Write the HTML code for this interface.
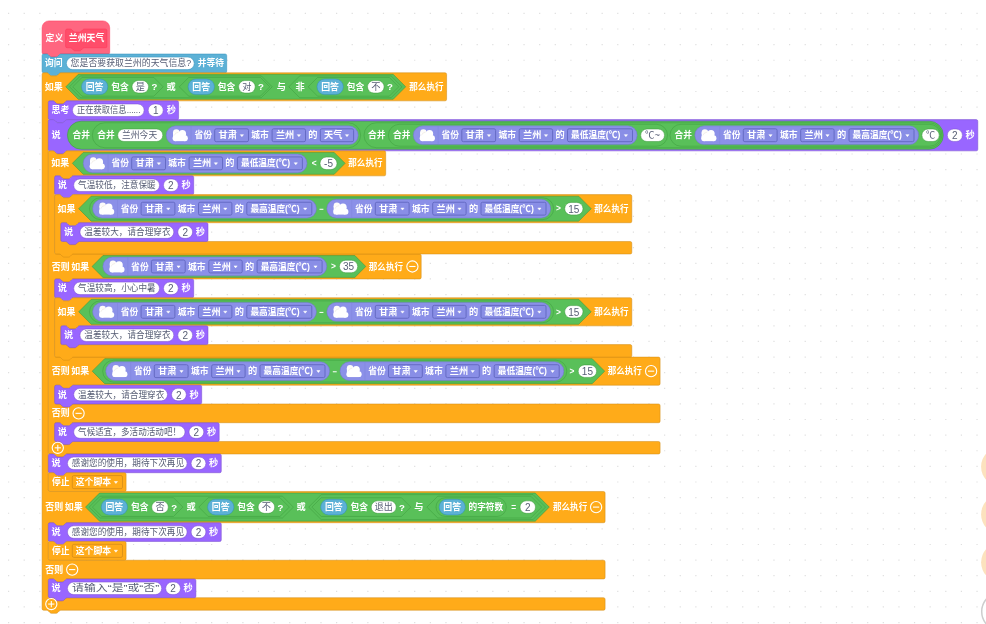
<!DOCTYPE html>
<html lang="zh-CN">
<head>
<meta charset="utf-8">
<title>兰州天气 - 积木脚本</title>
<style>
html,body{margin:0;padding:0;background:#fff;}
body{width:986px;height:624px;overflow:hidden;position:relative;font-family:"Liberation Sans","Noto Sans CJK SC",sans-serif;}
svg{position:absolute;left:0;top:0;display:block;will-change:transform;}
svg text{font-family:"Liberation Sans","Noto Sans CJK SC",sans-serif;font-size:8.4px;font-weight:bold;white-space:pre;}
svg text.t{font-size:9.4px;}
</style>
</head>
<body>
<svg width="986" height="624" viewBox="0 0 986 624">
<defs>
<path id="dr" d="M8,0h1.2v1.2h-1.2z M23.62,0h1.2v1.2h-1.2z M39.24,0h1.2v1.2h-1.2z M54.86,0h1.2v1.2h-1.2z M70.48,0h1.2v1.2h-1.2z M86.1,0h1.2v1.2h-1.2z M101.72,0h1.2v1.2h-1.2z M117.34,0h1.2v1.2h-1.2z M132.96,0h1.2v1.2h-1.2z M148.58,0h1.2v1.2h-1.2z M164.2,0h1.2v1.2h-1.2z M179.82,0h1.2v1.2h-1.2z M195.44,0h1.2v1.2h-1.2z M211.06,0h1.2v1.2h-1.2z M226.68,0h1.2v1.2h-1.2z M242.3,0h1.2v1.2h-1.2z M257.92,0h1.2v1.2h-1.2z M273.54,0h1.2v1.2h-1.2z M289.16,0h1.2v1.2h-1.2z M304.78,0h1.2v1.2h-1.2z M320.4,0h1.2v1.2h-1.2z M336.02,0h1.2v1.2h-1.2z M351.64,0h1.2v1.2h-1.2z M367.26,0h1.2v1.2h-1.2z M382.88,0h1.2v1.2h-1.2z M398.5,0h1.2v1.2h-1.2z M414.12,0h1.2v1.2h-1.2z M429.74,0h1.2v1.2h-1.2z M445.36,0h1.2v1.2h-1.2z M460.98,0h1.2v1.2h-1.2z M476.6,0h1.2v1.2h-1.2z M492.22,0h1.2v1.2h-1.2z M507.84,0h1.2v1.2h-1.2z M523.46,0h1.2v1.2h-1.2z M539.08,0h1.2v1.2h-1.2z M554.7,0h1.2v1.2h-1.2z M570.32,0h1.2v1.2h-1.2z M585.94,0h1.2v1.2h-1.2z M601.56,0h1.2v1.2h-1.2z M617.18,0h1.2v1.2h-1.2z M632.8,0h1.2v1.2h-1.2z M648.42,0h1.2v1.2h-1.2z M664.04,0h1.2v1.2h-1.2z M679.66,0h1.2v1.2h-1.2z M695.28,0h1.2v1.2h-1.2z M710.9,0h1.2v1.2h-1.2z M726.52,0h1.2v1.2h-1.2z M742.14,0h1.2v1.2h-1.2z M757.76,0h1.2v1.2h-1.2z M773.38,0h1.2v1.2h-1.2z M789,0h1.2v1.2h-1.2z M804.62,0h1.2v1.2h-1.2z M820.24,0h1.2v1.2h-1.2z M835.86,0h1.2v1.2h-1.2z M851.48,0h1.2v1.2h-1.2z M867.1,0h1.2v1.2h-1.2z M882.72,0h1.2v1.2h-1.2z M898.34,0h1.2v1.2h-1.2z M913.96,0h1.2v1.2h-1.2z M929.58,0h1.2v1.2h-1.2z M945.2,0h1.2v1.2h-1.2z M960.82,0h1.2v1.2h-1.2z M976.44,0h1.2v1.2h-1.2z" fill="#DFDFDF"/>
</defs>
<rect x="0" y="0" width="986" height="624" fill="#fff"/>
<g id="grid">
<use href="#dr" y="12.8"/>
<use href="#dr" y="28.42"/>
<use href="#dr" y="44.04"/>
<use href="#dr" y="59.66"/>
<use href="#dr" y="75.28"/>
<use href="#dr" y="90.9"/>
<use href="#dr" y="106.52"/>
<use href="#dr" y="122.14"/>
<use href="#dr" y="137.76"/>
<use href="#dr" y="153.38"/>
<use href="#dr" y="169"/>
<use href="#dr" y="184.62"/>
<use href="#dr" y="200.24"/>
<use href="#dr" y="215.86"/>
<use href="#dr" y="231.48"/>
<use href="#dr" y="247.1"/>
<use href="#dr" y="262.72"/>
<use href="#dr" y="278.34"/>
<use href="#dr" y="293.96"/>
<use href="#dr" y="309.58"/>
<use href="#dr" y="325.2"/>
<use href="#dr" y="340.82"/>
<use href="#dr" y="356.44"/>
<use href="#dr" y="372.06"/>
<use href="#dr" y="387.68"/>
<use href="#dr" y="403.3"/>
<use href="#dr" y="418.92"/>
<use href="#dr" y="434.54"/>
<use href="#dr" y="450.16"/>
<use href="#dr" y="465.78"/>
<use href="#dr" y="481.4"/>
<use href="#dr" y="497.02"/>
<use href="#dr" y="512.64"/>
<use href="#dr" y="528.26"/>
<use href="#dr" y="543.88"/>
<use href="#dr" y="559.5"/>
<use href="#dr" y="575.12"/>
<use href="#dr" y="590.74"/>
<use href="#dr" y="606.36"/>
<use href="#dr" y="621.98"/>
</g>
<g id="ui">
<circle cx="1000.9" cy="466.7" r="19.8" fill="#FCE2BE"/>
<circle cx="1000.9" cy="514.4" r="19.8" fill="#FCE2BE"/>
<circle cx="1000.9" cy="562.3" r="19.8" fill="#FCE2BE"/>
<circle cx="1000.9" cy="611.6" r="19.2" fill="#fff" stroke="#CDCDCD" stroke-width="1.5"/>
</g>
<g id="blocks">
<path d="M 42.1,27.74 a 6.84,6.84 0 0 1 6.84,-6.84 H 102.86 a 6.84,6.84 0 0 1 6.84,6.84 V 52.44 a 1.56,1.56 0 0 1 -1.56,1.56 H 60.85 c -0.78,0 -1.17,0.39 -1.56,0.78 l -1.56,1.56 c -0.39,0.39 -0.78,0.78 -1.56,0.78 h -4.69 c -0.78,0 -1.17,-0.39 -1.56,-0.78 l -1.56,-1.56 c -0.39,-0.39 -0.78,-0.78 -1.56,-0.78 H 43.66 a 1.56,1.56 0 0 1 -1.56,-1.56 z" fill="#FF6680" stroke="#FF3355" stroke-width="0.5" />
<path d="M 65.6,30.56 a 1.56,1.56 0 0 1 1.56,-1.56 H 70.29 c 0.78,0 1.17,0.39 1.56,0.78 l 1.56,1.56 c 0.39,0.39 0.78,0.78 1.56,0.78 h 4.69 c 0.78,0 1.17,-0.39 1.56,-0.78 l 1.56,-1.56 c 0.39,-0.39 0.78,-0.78 1.56,-0.78 H 105.34 a 1.56,1.56 0 0 1 1.56,1.56 V 46.19 a 1.56,1.56 0 0 1 -1.56,1.56 H 84.35 c -0.78,0 -1.17,0.39 -1.56,0.78 l -1.56,1.56 c -0.39,0.39 -0.78,0.78 -1.56,0.78 h -4.69 c -0.78,0 -1.17,-0.39 -1.56,-0.78 l -1.56,-1.56 c -0.39,-0.39 -0.78,-0.78 -1.56,-0.78 H 67.16 a 1.56,1.56 0 0 1 -1.56,-1.56 z" fill="#FF4D6A" stroke="#FF3355" stroke-width="0.5" />
<text class="t" x="45.6" y="41.35" textLength="17.6" lengthAdjust="spacingAndGlyphs" fill="#fff">定义</text>
<text class="t" x="68.8" y="41.35" textLength="35.6" lengthAdjust="spacingAndGlyphs" fill="#fff">兰州天气</text>
<path d="M 42.1,55.56 a 1.56,1.56 0 0 1 1.56,-1.56 H 46.79 c 0.78,0 1.17,0.39 1.56,0.78 l 1.56,1.56 c 0.39,0.39 0.78,0.78 1.56,0.78 h 4.69 c 0.78,0 1.17,-0.39 1.56,-0.78 l 1.56,-1.56 c 0.39,-0.39 0.78,-0.78 1.56,-0.78 H 225.14 a 1.56,1.56 0 0 1 1.56,1.56 V 71.19 a 1.56,1.56 0 0 1 -1.56,1.56 H 60.85 c -0.78,0 -1.17,0.39 -1.56,0.78 l -1.56,1.56 c -0.39,0.39 -0.78,0.78 -1.56,0.78 h -4.69 c -0.78,0 -1.17,-0.39 -1.56,-0.78 l -1.56,-1.56 c -0.39,-0.39 -0.78,-0.78 -1.56,-0.78 H 43.66 a 1.56,1.56 0 0 1 -1.56,-1.56 z" fill="#5CB1D6" stroke="#2E8EB8" stroke-width="0.5" />
<text class="t" x="44.8" y="66.42" textLength="17.9" lengthAdjust="spacingAndGlyphs" fill="#fff">询问</text>
<rect x="66.4" y="57.12" width="127.8" height="12.5" rx="6.25" fill="#fff" stroke="#2E8EB8" stroke-width="0.5"/>
<text class="t" x="70.6" y="66.42" textLength="120.6" lengthAdjust="spacingAndGlyphs" style="font-weight:400;" fill="#575E75">您是否要获取兰州的天气信息?</text>
<text class="t" x="197.8" y="66.42" textLength="26.2" lengthAdjust="spacingAndGlyphs" fill="#fff">并等待</text>
<path d="M 42.1,74.31 a 1.56,1.56 0 0 1 1.56,-1.56 H 46.79 c 0.78,0 1.17,0.39 1.56,0.78 l 1.56,1.56 c 0.39,0.39 0.78,0.78 1.56,0.78 h 4.69 c 0.78,0 1.17,-0.39 1.56,-0.78 l 1.56,-1.56 c 0.39,-0.39 0.78,-0.78 1.56,-0.78 H 445.04 a 1.56,1.56 0 0 1 1.56,1.56 V 99.31 a 1.56,1.56 0 0 1 -1.56,1.56 H 67.1 c -0.78,0 -1.17,0.39 -1.56,0.78 l -1.56,1.56 c -0.39,0.39 -0.78,0.78 -1.56,0.78 h -4.69 c -0.78,0 -1.17,-0.39 -1.56,-0.78 l -1.56,-1.56 c -0.39,-0.39 -0.78,-0.78 -1.56,-0.78 H 49.91 a 1.56,1.56 0 0 0 -1.56,1.56 V 489.91 a 1.56,1.56 0 0 0 1.56,1.56 H 603.54 a 1.56,1.56 0 0 1 1.56,1.56 V 521.16 a 1.56,1.56 0 0 1 -1.56,1.56 H 67.1 c -0.78,0 -1.17,0.39 -1.56,0.78 l -1.56,1.56 c -0.39,0.39 -0.78,0.78 -1.56,0.78 h -4.69 c -0.78,0 -1.17,-0.39 -1.56,-0.78 l -1.56,-1.56 c -0.39,-0.39 -0.78,-0.78 -1.56,-0.78 H 49.91 a 1.56,1.56 0 0 0 -1.56,1.56 V 558.66 a 1.56,1.56 0 0 0 1.56,1.56 H 603.54 a 1.56,1.56 0 0 1 1.56,1.56 V 577.4 a 1.56,1.56 0 0 1 -1.56,1.56 H 67.1 c -0.78,0 -1.17,0.39 -1.56,0.78 l -1.56,1.56 c -0.39,0.39 -0.78,0.78 -1.56,0.78 h -4.69 c -0.78,0 -1.17,-0.39 -1.56,-0.78 l -1.56,-1.56 c -0.39,-0.39 -0.78,-0.78 -1.56,-0.78 H 49.91 a 1.56,1.56 0 0 0 -1.56,1.56 V 596.15 a 1.56,1.56 0 0 0 1.56,1.56 H 603.54 a 1.56,1.56 0 0 1 1.56,1.56 V 608.65 a 1.56,1.56 0 0 1 -1.56,1.56 H 60.85 c -0.78,0 -1.17,0.39 -1.56,0.78 l -1.56,1.56 c -0.39,0.39 -0.78,0.78 -1.56,0.78 h -4.69 c -0.78,0 -1.17,-0.39 -1.56,-0.78 l -1.56,-1.56 c -0.39,-0.39 -0.78,-0.78 -1.56,-0.78 H 43.66 a 1.56,1.56 0 0 1 -1.56,-1.56 z" fill="#FFAB19" stroke="#CF8B17" stroke-width="0.5" />
<text class="t" x="44.8" y="89.86" textLength="17.9" lengthAdjust="spacingAndGlyphs" fill="#fff">如果</text>
<path d="M 65.8,86.81 L 78.3,74.31 H 393.2 L 405.7,86.81 L 393.2,99.31 H 78.3 z" fill="#59C059" stroke="#389438" stroke-width="0.5" />
<path d="M 69.5,86.81 L 80.44,75.87 H 261.26 L 272.2,86.81 L 261.26,97.75 H 80.44 z" fill="#59C059" stroke="#389438" stroke-width="0.5" stroke-opacity="0.8"/>
<path d="M 72.7,86.81 L 82.07,77.44 H 153.83 L 163.2,86.81 L 153.83,96.18 H 82.07 z" fill="#59C059" stroke="#389438" stroke-width="0.5" stroke-opacity="0.8"/>
<rect x="81.5" y="79" width="26.3" height="15.62" rx="7.81" fill="#5CB1D6" stroke="#2E8EB8" stroke-width="0.5"/>
<text class="t" x="85.7" y="89.86" textLength="17.8" lengthAdjust="spacingAndGlyphs" fill="#fff">回答</text>
<text class="t" x="111.2" y="89.86" textLength="17.6" lengthAdjust="spacingAndGlyphs" fill="#fff">包含</text>
<rect x="132" y="80.56" width="16.6" height="12.5" rx="6.25" fill="#fff" stroke="#389438" stroke-width="0.5"/>
<text class="t" x="140.3" y="89.86" textLength="9.2" lengthAdjust="spacingAndGlyphs" text-anchor="middle" style="font-weight:400;" fill="#575E75">是</text>
<text x="151.5" y="90.25" style="font-size:9.6px;font-weight:700;" fill="#fff">?</text>
<text class="t" x="166.6" y="89.86" textLength="9.2" lengthAdjust="spacingAndGlyphs" fill="#fff">或</text>
<path d="M 179.3,86.81 L 188.67,77.44 H 260.43 L 269.8,86.81 L 260.43,96.18 H 188.67 z" fill="#59C059" stroke="#389438" stroke-width="0.5" stroke-opacity="0.8"/>
<rect x="188.1" y="79" width="26.3" height="15.62" rx="7.81" fill="#5CB1D6" stroke="#2E8EB8" stroke-width="0.5"/>
<text class="t" x="192.3" y="89.86" textLength="17.8" lengthAdjust="spacingAndGlyphs" fill="#fff">回答</text>
<text class="t" x="217.8" y="89.86" textLength="17.6" lengthAdjust="spacingAndGlyphs" fill="#fff">包含</text>
<rect x="238.6" y="80.56" width="16.6" height="12.5" rx="6.25" fill="#fff" stroke="#389438" stroke-width="0.5"/>
<text class="t" x="246.9" y="89.86" textLength="9.2" lengthAdjust="spacingAndGlyphs" text-anchor="middle" style="font-weight:400;" fill="#575E75">对</text>
<text x="258.1" y="90.25" style="font-size:9.6px;font-weight:700;" fill="#fff">?</text>
<text class="t" x="276.8" y="89.86" textLength="9.2" lengthAdjust="spacingAndGlyphs" fill="#fff">与</text>
<path d="M 288.8,86.81 L 299.74,75.87 H 391.06 L 402,86.81 L 391.06,97.75 H 299.74 z" fill="#59C059" stroke="#389438" stroke-width="0.5" stroke-opacity="0.8"/>
<text class="t" x="295.6" y="89.86" textLength="9.2" lengthAdjust="spacingAndGlyphs" fill="#fff">非</text>
<path d="M 308.2,86.81 L 317.57,77.44 H 389.33 L 398.7,86.81 L 389.33,96.18 H 317.57 z" fill="#59C059" stroke="#389438" stroke-width="0.5" stroke-opacity="0.8"/>
<rect x="317" y="79" width="26.3" height="15.62" rx="7.81" fill="#5CB1D6" stroke="#2E8EB8" stroke-width="0.5"/>
<text class="t" x="321.2" y="89.86" textLength="17.8" lengthAdjust="spacingAndGlyphs" fill="#fff">回答</text>
<text class="t" x="346.7" y="89.86" textLength="17.6" lengthAdjust="spacingAndGlyphs" fill="#fff">包含</text>
<rect x="367.5" y="80.56" width="16.6" height="12.5" rx="6.25" fill="#fff" stroke="#389438" stroke-width="0.5"/>
<text class="t" x="375.8" y="89.86" textLength="9.2" lengthAdjust="spacingAndGlyphs" text-anchor="middle" style="font-weight:400;" fill="#575E75">不</text>
<text x="387" y="90.25" style="font-size:9.6px;font-weight:700;" fill="#fff">?</text>
<text class="t" x="409.3" y="89.86" textLength="34.2" lengthAdjust="spacingAndGlyphs" fill="#fff">那么执行</text>
<path d="M 48.35,102.43 a 1.56,1.56 0 0 1 1.56,-1.56 H 53.04 c 0.78,0 1.17,0.39 1.56,0.78 l 1.56,1.56 c 0.39,0.39 0.78,0.78 1.56,0.78 h 4.69 c 0.78,0 1.17,-0.39 1.56,-0.78 l 1.56,-1.56 c 0.39,-0.39 0.78,-0.78 1.56,-0.78 H 177.04 a 1.56,1.56 0 0 1 1.56,1.56 V 118.06 a 1.56,1.56 0 0 1 -1.56,1.56 H 67.1 c -0.78,0 -1.17,0.39 -1.56,0.78 l -1.56,1.56 c -0.39,0.39 -0.78,0.78 -1.56,0.78 h -4.69 c -0.78,0 -1.17,-0.39 -1.56,-0.78 l -1.56,-1.56 c -0.39,-0.39 -0.78,-0.78 -1.56,-0.78 H 49.91 a 1.56,1.56 0 0 1 -1.56,-1.56 z" fill="#9966FF" stroke="#774DCB" stroke-width="0.5" />
<text class="t" x="51.5" y="113.3" textLength="17.9" lengthAdjust="spacingAndGlyphs" fill="#fff">思考</text>
<rect x="72.5" y="104" width="71.6" height="12.5" rx="6.25" fill="#fff" stroke="#774DCB" stroke-width="0.5"/>
<text class="t" x="76.9" y="113.3" textLength="63.6" lengthAdjust="spacingAndGlyphs" style="font-weight:400;" fill="#575E75">正在获取信息......</text>
<rect x="148.2" y="104" width="15" height="12.5" rx="6.25" fill="#fff" stroke="#774DCB" stroke-width="0.5"/>
<text x="155.7" y="114.15" text-anchor="middle" style="font-size:10px;font-weight:400;" fill="#575E75">1</text>
<text class="t" x="166.7" y="113.3" textLength="9.2" lengthAdjust="spacingAndGlyphs" fill="#fff">秒</text>
<path d="M 48.35,121.18 a 1.56,1.56 0 0 1 1.56,-1.56 H 53.04 c 0.78,0 1.17,0.39 1.56,0.78 l 1.56,1.56 c 0.39,0.39 0.78,0.78 1.56,0.78 h 4.69 c 0.78,0 1.17,-0.39 1.56,-0.78 l 1.56,-1.56 c 0.39,-0.39 0.78,-0.78 1.56,-0.78 H 976.24 a 1.56,1.56 0 0 1 1.56,1.56 V 149.31 a 1.56,1.56 0 0 1 -1.56,1.56 H 67.1 c -0.78,0 -1.17,0.39 -1.56,0.78 l -1.56,1.56 c -0.39,0.39 -0.78,0.78 -1.56,0.78 h -4.69 c -0.78,0 -1.17,-0.39 -1.56,-0.78 l -1.56,-1.56 c -0.39,-0.39 -0.78,-0.78 -1.56,-0.78 H 49.91 a 1.56,1.56 0 0 1 -1.56,-1.56 z" fill="#9966FF" stroke="#774DCB" stroke-width="0.5" />
<text class="t" x="51.6" y="138.29" textLength="9.2" lengthAdjust="spacingAndGlyphs" fill="#fff">说</text>
<rect x="67.4" y="121.18" width="875.9" height="28.12" rx="14.06" fill="#59C059" stroke="#389438" stroke-width="0.5"/>
<text class="t" x="72.5" y="138.29" textLength="17.4" lengthAdjust="spacingAndGlyphs" fill="#fff">合并</text>
<rect x="92.3" y="122.75" width="268.3" height="25" rx="12.5" fill="#59C059" stroke="#389438" stroke-width="0.5" stroke-opacity="0.8"/>
<text class="t" x="97.3" y="138.29" textLength="17.4" lengthAdjust="spacingAndGlyphs" fill="#fff">合并</text>
<rect x="117.7" y="129" width="45.1" height="12.5" rx="6.25" fill="#fff" stroke="#389438" stroke-width="0.5"/>
<text class="t" x="122" y="138.29" textLength="35.2" lengthAdjust="spacingAndGlyphs" style="font-weight:400;" fill="#575E75">兰州今天</text>
<rect x="166.2" y="125.87" width="192" height="18.75" rx="9.37" fill="#8B90E8" stroke="#6F74CB" stroke-width="0.5"/>
<g transform="translate(172.6,129.14) scale(0.97,1)"><circle cx="3.8" cy="3.4" r="3.4" fill="#FDFCF9"/><rect x="0.5" y="3.4" width="6" height="5" fill="#fff"/><circle cx="10.1" cy="4.7" r="3.8" fill="#fff"/><circle cx="2.9" cy="9.1" r="2.9" fill="#fff"/><circle cx="12.8" cy="9.1" r="2.9" fill="#fff"/><rect x="2.9" y="5" width="9.9" height="7" fill="#fff"/><path d="M 1.9,6.2 Q 2.3,3.5 5.9,3.1" fill="none" stroke="#E4DDCF" stroke-width="0.45"/></g>
<line x1="191.1" y1="126.24" x2="191.1" y2="144.24" stroke="#7F84DC" stroke-width="0.5"/>
<text class="t" x="194.4" y="138.29" textLength="17.6" lengthAdjust="spacingAndGlyphs" fill="#fff">省份</text>
<rect x="214.7" y="128.8" width="33.8" height="12.89" rx="1.56" fill="#898EE6" stroke="#6166BF" stroke-width="0.9"/>
<text class="t" x="218.5" y="138.29" textLength="18.4" lengthAdjust="spacingAndGlyphs" fill="#fff">甘肃</text>
<path d="M 240.3,134.64 h 3.2 l -1.6,2.0 z" fill="#fff" stroke="#fff" stroke-width="0.5" stroke-linejoin="round"/>
<text class="t" x="251.3" y="138.29" textLength="17.6" lengthAdjust="spacingAndGlyphs" fill="#fff">城市</text>
<rect x="272.1" y="128.8" width="33.4" height="12.89" rx="1.56" fill="#898EE6" stroke="#6166BF" stroke-width="0.9"/>
<text class="t" x="275.9" y="138.29" textLength="18.4" lengthAdjust="spacingAndGlyphs" fill="#fff">兰州</text>
<path d="M 297.3,134.64 h 3.2 l -1.6,2.0 z" fill="#fff" stroke="#fff" stroke-width="0.5" stroke-linejoin="round"/>
<text class="t" x="308.3" y="138.29" textLength="9.2" lengthAdjust="spacingAndGlyphs" fill="#fff">的</text>
<rect x="320.3" y="128.8" width="33.3" height="12.89" rx="1.56" fill="#898EE6" stroke="#6166BF" stroke-width="0.9"/>
<text class="t" x="324.1" y="138.29" textLength="18.4" lengthAdjust="spacingAndGlyphs" fill="#fff">天气</text>
<path d="M 345.4,134.64 h 3.2 l -1.6,2.0 z" fill="#fff" stroke="#fff" stroke-width="0.5" stroke-linejoin="round"/>
<rect x="364" y="122.75" width="577.9" height="25" rx="12.5" fill="#59C059" stroke="#389438" stroke-width="0.5" stroke-opacity="0.8"/>
<text class="t" x="368" y="138.29" textLength="17.4" lengthAdjust="spacingAndGlyphs" fill="#fff">合并</text>
<rect x="388.4" y="124.31" width="279.1" height="21.87" rx="10.94" fill="#59C059" stroke="#389438" stroke-width="0.5" stroke-opacity="0.8"/>
<text class="t" x="393.1" y="138.29" textLength="17.4" lengthAdjust="spacingAndGlyphs" fill="#fff">合并</text>
<rect x="413.3" y="125.87" width="223.85" height="18.75" rx="9.37" fill="#8B90E8" stroke="#6F74CB" stroke-width="0.5"/>
<g transform="translate(419.7,129.14) scale(0.97,1)"><circle cx="3.8" cy="3.4" r="3.4" fill="#FDFCF9"/><rect x="0.5" y="3.4" width="6" height="5" fill="#fff"/><circle cx="10.1" cy="4.7" r="3.8" fill="#fff"/><circle cx="2.9" cy="9.1" r="2.9" fill="#fff"/><circle cx="12.8" cy="9.1" r="2.9" fill="#fff"/><rect x="2.9" y="5" width="9.9" height="7" fill="#fff"/><path d="M 1.9,6.2 Q 2.3,3.5 5.9,3.1" fill="none" stroke="#E4DDCF" stroke-width="0.45"/></g>
<line x1="438.2" y1="126.24" x2="438.2" y2="144.24" stroke="#7F84DC" stroke-width="0.5"/>
<text class="t" x="441.5" y="138.29" textLength="17.6" lengthAdjust="spacingAndGlyphs" fill="#fff">省份</text>
<rect x="461.8" y="128.8" width="33.8" height="12.89" rx="1.56" fill="#898EE6" stroke="#6166BF" stroke-width="0.9"/>
<text class="t" x="465.6" y="138.29" textLength="18.4" lengthAdjust="spacingAndGlyphs" fill="#fff">甘肃</text>
<path d="M 487.4,134.64 h 3.2 l -1.6,2.0 z" fill="#fff" stroke="#fff" stroke-width="0.5" stroke-linejoin="round"/>
<text class="t" x="498.4" y="138.29" textLength="17.6" lengthAdjust="spacingAndGlyphs" fill="#fff">城市</text>
<rect x="519.2" y="128.8" width="33.4" height="12.89" rx="1.56" fill="#898EE6" stroke="#6166BF" stroke-width="0.9"/>
<text class="t" x="523" y="138.29" textLength="18.4" lengthAdjust="spacingAndGlyphs" fill="#fff">兰州</text>
<path d="M 544.4,134.64 h 3.2 l -1.6,2.0 z" fill="#fff" stroke="#fff" stroke-width="0.5" stroke-linejoin="round"/>
<text class="t" x="555.4" y="138.29" textLength="9.2" lengthAdjust="spacingAndGlyphs" fill="#fff">的</text>
<rect x="567.5" y="128.8" width="65" height="12.89" rx="1.56" fill="#898EE6" stroke="#6166BF" stroke-width="0.9"/>
<text class="t" x="571.1" y="138.29" textLength="49.2" lengthAdjust="spacingAndGlyphs" fill="#fff">最低温度(℃)</text>
<path d="M 624.3,134.64 h 3.2 l -1.6,2.0 z" fill="#fff" stroke="#fff" stroke-width="0.5" stroke-linejoin="round"/>
<rect x="640.7" y="129" width="23.8" height="12.5" rx="6.25" fill="#fff" stroke="#389438" stroke-width="0.5"/>
<text class="t" x="652.6" y="138.29" textLength="15" lengthAdjust="spacingAndGlyphs" text-anchor="middle" style="font-weight:400;" fill="#575E75">℃~</text>
<rect x="670" y="124.31" width="270.6" height="21.87" rx="10.94" fill="#59C059" stroke="#389438" stroke-width="0.5" stroke-opacity="0.8"/>
<text class="t" x="674.6" y="138.29" textLength="17.4" lengthAdjust="spacingAndGlyphs" fill="#fff">合并</text>
<rect x="694.8" y="125.87" width="223.85" height="18.75" rx="9.37" fill="#8B90E8" stroke="#6F74CB" stroke-width="0.5"/>
<g transform="translate(701.2,129.14) scale(0.97,1)"><circle cx="3.8" cy="3.4" r="3.4" fill="#FDFCF9"/><rect x="0.5" y="3.4" width="6" height="5" fill="#fff"/><circle cx="10.1" cy="4.7" r="3.8" fill="#fff"/><circle cx="2.9" cy="9.1" r="2.9" fill="#fff"/><circle cx="12.8" cy="9.1" r="2.9" fill="#fff"/><rect x="2.9" y="5" width="9.9" height="7" fill="#fff"/><path d="M 1.9,6.2 Q 2.3,3.5 5.9,3.1" fill="none" stroke="#E4DDCF" stroke-width="0.45"/></g>
<line x1="719.7" y1="126.24" x2="719.7" y2="144.24" stroke="#7F84DC" stroke-width="0.5"/>
<text class="t" x="723" y="138.29" textLength="17.6" lengthAdjust="spacingAndGlyphs" fill="#fff">省份</text>
<rect x="743.3" y="128.8" width="33.8" height="12.89" rx="1.56" fill="#898EE6" stroke="#6166BF" stroke-width="0.9"/>
<text class="t" x="747.1" y="138.29" textLength="18.4" lengthAdjust="spacingAndGlyphs" fill="#fff">甘肃</text>
<path d="M 768.9,134.64 h 3.2 l -1.6,2.0 z" fill="#fff" stroke="#fff" stroke-width="0.5" stroke-linejoin="round"/>
<text class="t" x="779.9" y="138.29" textLength="17.6" lengthAdjust="spacingAndGlyphs" fill="#fff">城市</text>
<rect x="800.7" y="128.8" width="33.4" height="12.89" rx="1.56" fill="#898EE6" stroke="#6166BF" stroke-width="0.9"/>
<text class="t" x="804.5" y="138.29" textLength="18.4" lengthAdjust="spacingAndGlyphs" fill="#fff">兰州</text>
<path d="M 825.9,134.64 h 3.2 l -1.6,2.0 z" fill="#fff" stroke="#fff" stroke-width="0.5" stroke-linejoin="round"/>
<text class="t" x="836.9" y="138.29" textLength="9.2" lengthAdjust="spacingAndGlyphs" fill="#fff">的</text>
<rect x="849" y="128.8" width="65" height="12.89" rx="1.56" fill="#898EE6" stroke="#6166BF" stroke-width="0.9"/>
<text class="t" x="852.6" y="138.29" textLength="49.2" lengthAdjust="spacingAndGlyphs" fill="#fff">最高温度(℃)</text>
<path d="M 905.8,134.64 h 3.2 l -1.6,2.0 z" fill="#fff" stroke="#fff" stroke-width="0.5" stroke-linejoin="round"/>
<rect x="921.9" y="129" width="17.3" height="12.5" rx="6.25" fill="#fff" stroke="#389438" stroke-width="0.5"/>
<text class="t" x="930.55" y="138.29" textLength="9.2" lengthAdjust="spacingAndGlyphs" text-anchor="middle" style="font-weight:400;" fill="#575E75">℃</text>
<rect x="947.3" y="129" width="15.1" height="12.5" rx="6.25" fill="#fff" stroke="#774DCB" stroke-width="0.5"/>
<text x="954.85" y="139.14" text-anchor="middle" style="font-size:10px;font-weight:400;" fill="#575E75">2</text>
<text class="t" x="965.4" y="138.29" textLength="9.2" lengthAdjust="spacingAndGlyphs" fill="#fff">秒</text>
<path d="M 48.35,152.43 a 1.56,1.56 0 0 1 1.56,-1.56 H 53.04 c 0.78,0 1.17,0.39 1.56,0.78 l 1.56,1.56 c 0.39,0.39 0.78,0.78 1.56,0.78 h 4.69 c 0.78,0 1.17,-0.39 1.56,-0.78 l 1.56,-1.56 c 0.39,-0.39 0.78,-0.78 1.56,-0.78 H 384.14 a 1.56,1.56 0 0 1 1.56,1.56 V 174.3 a 1.56,1.56 0 0 1 -1.56,1.56 H 73.35 c -0.78,0 -1.17,0.39 -1.56,0.78 l -1.56,1.56 c -0.39,0.39 -0.78,0.78 -1.56,0.78 h -4.69 c -0.78,0 -1.17,-0.39 -1.56,-0.78 l -1.56,-1.56 c -0.39,-0.39 -0.78,-0.78 -1.56,-0.78 H 56.16 a 1.56,1.56 0 0 0 -1.56,1.56 V 252.42 a 1.56,1.56 0 0 0 1.56,1.56 H 419.64 a 1.56,1.56 0 0 1 1.56,1.56 V 277.42 a 1.56,1.56 0 0 1 -1.56,1.56 H 73.35 c -0.78,0 -1.17,0.39 -1.56,0.78 l -1.56,1.56 c -0.39,0.39 -0.78,0.78 -1.56,0.78 h -4.69 c -0.78,0 -1.17,-0.39 -1.56,-0.78 l -1.56,-1.56 c -0.39,-0.39 -0.78,-0.78 -1.56,-0.78 H 56.16 a 1.56,1.56 0 0 0 -1.56,1.56 V 355.54 a 1.56,1.56 0 0 0 1.56,1.56 H 658.54 a 1.56,1.56 0 0 1 1.56,1.56 V 383.67 a 1.56,1.56 0 0 1 -1.56,1.56 H 73.35 c -0.78,0 -1.17,0.39 -1.56,0.78 l -1.56,1.56 c -0.39,0.39 -0.78,0.78 -1.56,0.78 h -4.69 c -0.78,0 -1.17,-0.39 -1.56,-0.78 l -1.56,-1.56 c -0.39,-0.39 -0.78,-0.78 -1.56,-0.78 H 56.16 a 1.56,1.56 0 0 0 -1.56,1.56 V 402.42 a 1.56,1.56 0 0 0 1.56,1.56 H 658.54 a 1.56,1.56 0 0 1 1.56,1.56 V 421.16 a 1.56,1.56 0 0 1 -1.56,1.56 H 73.35 c -0.78,0 -1.17,0.39 -1.56,0.78 l -1.56,1.56 c -0.39,0.39 -0.78,0.78 -1.56,0.78 h -4.69 c -0.78,0 -1.17,-0.39 -1.56,-0.78 l -1.56,-1.56 c -0.39,-0.39 -0.78,-0.78 -1.56,-0.78 H 56.16 a 1.56,1.56 0 0 0 -1.56,1.56 V 439.91 a 1.56,1.56 0 0 0 1.56,1.56 H 658.54 a 1.56,1.56 0 0 1 1.56,1.56 V 452.41 a 1.56,1.56 0 0 1 -1.56,1.56 H 67.1 c -0.78,0 -1.17,0.39 -1.56,0.78 l -1.56,1.56 c -0.39,0.39 -0.78,0.78 -1.56,0.78 h -4.69 c -0.78,0 -1.17,-0.39 -1.56,-0.78 l -1.56,-1.56 c -0.39,-0.39 -0.78,-0.78 -1.56,-0.78 H 49.91 a 1.56,1.56 0 0 1 -1.56,-1.56 z" fill="#FFAB19" stroke="#CF8B17" stroke-width="0.5" />
<text class="t" x="51.3" y="166.42" textLength="17.9" lengthAdjust="spacingAndGlyphs" fill="#fff">如果</text>
<path d="M 72.3,163.37 L 83.24,152.43 H 334.16 L 345.1,163.37 L 334.16,174.3 H 83.24 z" fill="#59C059" stroke="#389438" stroke-width="0.5" />
<rect x="83.2" y="153.99" width="223.85" height="18.75" rx="9.37" fill="#8B90E8" stroke="#6F74CB" stroke-width="0.5"/>
<g transform="translate(89.6,157.27) scale(0.97,1)"><circle cx="3.8" cy="3.4" r="3.4" fill="#FDFCF9"/><rect x="0.5" y="3.4" width="6" height="5" fill="#fff"/><circle cx="10.1" cy="4.7" r="3.8" fill="#fff"/><circle cx="2.9" cy="9.1" r="2.9" fill="#fff"/><circle cx="12.8" cy="9.1" r="2.9" fill="#fff"/><rect x="2.9" y="5" width="9.9" height="7" fill="#fff"/><path d="M 1.9,6.2 Q 2.3,3.5 5.9,3.1" fill="none" stroke="#E4DDCF" stroke-width="0.45"/></g>
<line x1="108.1" y1="154.37" x2="108.1" y2="172.37" stroke="#7F84DC" stroke-width="0.5"/>
<text class="t" x="111.4" y="166.42" textLength="17.6" lengthAdjust="spacingAndGlyphs" fill="#fff">省份</text>
<rect x="131.7" y="156.92" width="33.8" height="12.89" rx="1.56" fill="#898EE6" stroke="#6166BF" stroke-width="0.9"/>
<text class="t" x="135.5" y="166.42" textLength="18.4" lengthAdjust="spacingAndGlyphs" fill="#fff">甘肃</text>
<path d="M 157.3,162.77 h 3.2 l -1.6,2.0 z" fill="#fff" stroke="#fff" stroke-width="0.5" stroke-linejoin="round"/>
<text class="t" x="168.3" y="166.42" textLength="17.6" lengthAdjust="spacingAndGlyphs" fill="#fff">城市</text>
<rect x="189.1" y="156.92" width="33.4" height="12.89" rx="1.56" fill="#898EE6" stroke="#6166BF" stroke-width="0.9"/>
<text class="t" x="192.9" y="166.42" textLength="18.4" lengthAdjust="spacingAndGlyphs" fill="#fff">兰州</text>
<path d="M 214.3,162.77 h 3.2 l -1.6,2.0 z" fill="#fff" stroke="#fff" stroke-width="0.5" stroke-linejoin="round"/>
<text class="t" x="225.3" y="166.42" textLength="9.2" lengthAdjust="spacingAndGlyphs" fill="#fff">的</text>
<rect x="237.4" y="156.92" width="65" height="12.89" rx="1.56" fill="#898EE6" stroke="#6166BF" stroke-width="0.9"/>
<text class="t" x="241" y="166.42" textLength="49.2" lengthAdjust="spacingAndGlyphs" fill="#fff">最低温度(℃)</text>
<path d="M 294.2,162.77 h 3.2 l -1.6,2.0 z" fill="#fff" stroke="#fff" stroke-width="0.5" stroke-linejoin="round"/>
<text x="311.7" y="166.09" style="font-weight:700;" fill="#fff">&lt;</text>
<rect x="320" y="157.12" width="17" height="12.5" rx="6.25" fill="#fff" stroke="#389438" stroke-width="0.5"/>
<text x="328.5" y="167.27" text-anchor="middle" style="font-size:10px;font-weight:400;" fill="#575E75">-5</text>
<text class="t" x="348.3" y="166.42" textLength="34.2" lengthAdjust="spacingAndGlyphs" fill="#fff">那么执行</text>
<path d="M 54.6,177.43 a 1.56,1.56 0 0 1 1.56,-1.56 H 59.29 c 0.78,0 1.17,0.39 1.56,0.78 l 1.56,1.56 c 0.39,0.39 0.78,0.78 1.56,0.78 h 4.69 c 0.78,0 1.17,-0.39 1.56,-0.78 l 1.56,-1.56 c 0.39,-0.39 0.78,-0.78 1.56,-0.78 H 192.14 a 1.56,1.56 0 0 1 1.56,1.56 V 193.05 a 1.56,1.56 0 0 1 -1.56,1.56 H 73.35 c -0.78,0 -1.17,0.39 -1.56,0.78 l -1.56,1.56 c -0.39,0.39 -0.78,0.78 -1.56,0.78 h -4.69 c -0.78,0 -1.17,-0.39 -1.56,-0.78 l -1.56,-1.56 c -0.39,-0.39 -0.78,-0.78 -1.56,-0.78 H 56.16 a 1.56,1.56 0 0 1 -1.56,-1.56 z" fill="#9966FF" stroke="#774DCB" stroke-width="0.5" />
<text class="t" x="57.8" y="188.29" textLength="9.2" lengthAdjust="spacingAndGlyphs" fill="#fff">说</text>
<rect x="73.7" y="178.99" width="85.8" height="12.5" rx="6.25" fill="#fff" stroke="#774DCB" stroke-width="0.5"/>
<text class="t" x="78.1" y="188.29" textLength="77.6" lengthAdjust="spacingAndGlyphs" style="font-weight:400;" fill="#575E75">气温较低，注意保暖</text>
<rect x="163.5" y="178.99" width="14.8" height="12.5" rx="6.25" fill="#fff" stroke="#774DCB" stroke-width="0.5"/>
<text x="170.9" y="189.14" text-anchor="middle" style="font-size:10px;font-weight:400;" fill="#575E75">2</text>
<text class="t" x="181.4" y="188.29" textLength="9.2" lengthAdjust="spacingAndGlyphs" fill="#fff">秒</text>
<path d="M 54.6,196.18 a 1.56,1.56 0 0 1 1.56,-1.56 H 59.29 c 0.78,0 1.17,0.39 1.56,0.78 l 1.56,1.56 c 0.39,0.39 0.78,0.78 1.56,0.78 h 4.69 c 0.78,0 1.17,-0.39 1.56,-0.78 l 1.56,-1.56 c 0.39,-0.39 0.78,-0.78 1.56,-0.78 H 630.24 a 1.56,1.56 0 0 1 1.56,1.56 V 221.18 a 1.56,1.56 0 0 1 -1.56,1.56 H 79.6 c -0.78,0 -1.17,0.39 -1.56,0.78 l -1.56,1.56 c -0.39,0.39 -0.78,0.78 -1.56,0.78 h -4.69 c -0.78,0 -1.17,-0.39 -1.56,-0.78 l -1.56,-1.56 c -0.39,-0.39 -0.78,-0.78 -1.56,-0.78 H 62.41 a 1.56,1.56 0 0 0 -1.56,1.56 V 239.93 a 1.56,1.56 0 0 0 1.56,1.56 H 630.24 a 1.56,1.56 0 0 1 1.56,1.56 V 252.42 a 1.56,1.56 0 0 1 -1.56,1.56 H 73.35 c -0.78,0 -1.17,0.39 -1.56,0.78 l -1.56,1.56 c -0.39,0.39 -0.78,0.78 -1.56,0.78 h -4.69 c -0.78,0 -1.17,-0.39 -1.56,-0.78 l -1.56,-1.56 c -0.39,-0.39 -0.78,-0.78 -1.56,-0.78 H 56.16 a 1.56,1.56 0 0 1 -1.56,-1.56 z" fill="#FFAB19" stroke="#CF8B17" stroke-width="0.5" />
<text class="t" x="57.6" y="211.73" textLength="17.9" lengthAdjust="spacingAndGlyphs" fill="#fff">如果</text>
<path d="M 78.7,208.68 L 91.2,196.18 H 578.7 L 591.2,208.68 L 578.7,221.18 H 91.2 z" fill="#59C059" stroke="#389438" stroke-width="0.5" />
<rect x="89.5" y="197.74" width="464.1" height="21.87" rx="10.94" fill="#59C059" stroke="#389438" stroke-width="0.5" stroke-opacity="0.8"/>
<rect x="92.6" y="199.3" width="223.85" height="18.75" rx="9.37" fill="#8B90E8" stroke="#6F74CB" stroke-width="0.5"/>
<g transform="translate(99,202.58) scale(0.97,1)"><circle cx="3.8" cy="3.4" r="3.4" fill="#FDFCF9"/><rect x="0.5" y="3.4" width="6" height="5" fill="#fff"/><circle cx="10.1" cy="4.7" r="3.8" fill="#fff"/><circle cx="2.9" cy="9.1" r="2.9" fill="#fff"/><circle cx="12.8" cy="9.1" r="2.9" fill="#fff"/><rect x="2.9" y="5" width="9.9" height="7" fill="#fff"/><path d="M 1.9,6.2 Q 2.3,3.5 5.9,3.1" fill="none" stroke="#E4DDCF" stroke-width="0.45"/></g>
<line x1="117.5" y1="199.68" x2="117.5" y2="217.68" stroke="#7F84DC" stroke-width="0.5"/>
<text class="t" x="120.8" y="211.73" textLength="17.6" lengthAdjust="spacingAndGlyphs" fill="#fff">省份</text>
<rect x="141.1" y="202.23" width="33.8" height="12.89" rx="1.56" fill="#898EE6" stroke="#6166BF" stroke-width="0.9"/>
<text class="t" x="144.9" y="211.73" textLength="18.4" lengthAdjust="spacingAndGlyphs" fill="#fff">甘肃</text>
<path d="M 166.7,208.08 h 3.2 l -1.6,2.0 z" fill="#fff" stroke="#fff" stroke-width="0.5" stroke-linejoin="round"/>
<text class="t" x="177.7" y="211.73" textLength="17.6" lengthAdjust="spacingAndGlyphs" fill="#fff">城市</text>
<rect x="198.5" y="202.23" width="33.4" height="12.89" rx="1.56" fill="#898EE6" stroke="#6166BF" stroke-width="0.9"/>
<text class="t" x="202.3" y="211.73" textLength="18.4" lengthAdjust="spacingAndGlyphs" fill="#fff">兰州</text>
<path d="M 223.7,208.08 h 3.2 l -1.6,2.0 z" fill="#fff" stroke="#fff" stroke-width="0.5" stroke-linejoin="round"/>
<text class="t" x="234.7" y="211.73" textLength="9.2" lengthAdjust="spacingAndGlyphs" fill="#fff">的</text>
<rect x="246.8" y="202.23" width="65" height="12.89" rx="1.56" fill="#898EE6" stroke="#6166BF" stroke-width="0.9"/>
<text class="t" x="250.4" y="211.73" textLength="49.2" lengthAdjust="spacingAndGlyphs" fill="#fff">最高温度(℃)</text>
<path d="M 303.6,208.08 h 3.2 l -1.6,2.0 z" fill="#fff" stroke="#fff" stroke-width="0.5" stroke-linejoin="round"/>
<rect x="319.5" y="208.78" width="3.9" height="1" fill="#fff"/>
<rect x="326.8" y="199.3" width="223.85" height="18.75" rx="9.37" fill="#8B90E8" stroke="#6F74CB" stroke-width="0.5"/>
<g transform="translate(333.2,202.58) scale(0.97,1)"><circle cx="3.8" cy="3.4" r="3.4" fill="#FDFCF9"/><rect x="0.5" y="3.4" width="6" height="5" fill="#fff"/><circle cx="10.1" cy="4.7" r="3.8" fill="#fff"/><circle cx="2.9" cy="9.1" r="2.9" fill="#fff"/><circle cx="12.8" cy="9.1" r="2.9" fill="#fff"/><rect x="2.9" y="5" width="9.9" height="7" fill="#fff"/><path d="M 1.9,6.2 Q 2.3,3.5 5.9,3.1" fill="none" stroke="#E4DDCF" stroke-width="0.45"/></g>
<line x1="351.7" y1="199.68" x2="351.7" y2="217.68" stroke="#7F84DC" stroke-width="0.5"/>
<text class="t" x="355" y="211.73" textLength="17.6" lengthAdjust="spacingAndGlyphs" fill="#fff">省份</text>
<rect x="375.3" y="202.23" width="33.8" height="12.89" rx="1.56" fill="#898EE6" stroke="#6166BF" stroke-width="0.9"/>
<text class="t" x="379.1" y="211.73" textLength="18.4" lengthAdjust="spacingAndGlyphs" fill="#fff">甘肃</text>
<path d="M 400.9,208.08 h 3.2 l -1.6,2.0 z" fill="#fff" stroke="#fff" stroke-width="0.5" stroke-linejoin="round"/>
<text class="t" x="411.9" y="211.73" textLength="17.6" lengthAdjust="spacingAndGlyphs" fill="#fff">城市</text>
<rect x="432.7" y="202.23" width="33.4" height="12.89" rx="1.56" fill="#898EE6" stroke="#6166BF" stroke-width="0.9"/>
<text class="t" x="436.5" y="211.73" textLength="18.4" lengthAdjust="spacingAndGlyphs" fill="#fff">兰州</text>
<path d="M 457.9,208.08 h 3.2 l -1.6,2.0 z" fill="#fff" stroke="#fff" stroke-width="0.5" stroke-linejoin="round"/>
<text class="t" x="468.9" y="211.73" textLength="9.2" lengthAdjust="spacingAndGlyphs" fill="#fff">的</text>
<rect x="481" y="202.23" width="65" height="12.89" rx="1.56" fill="#898EE6" stroke="#6166BF" stroke-width="0.9"/>
<text class="t" x="484.6" y="211.73" textLength="49.2" lengthAdjust="spacingAndGlyphs" fill="#fff">最低温度(℃)</text>
<path d="M 537.8,208.08 h 3.2 l -1.6,2.0 z" fill="#fff" stroke="#fff" stroke-width="0.5" stroke-linejoin="round"/>
<text x="556.1" y="211.4" style="font-weight:700;" fill="#fff">&gt;</text>
<rect x="564.7" y="202.43" width="18.3" height="12.5" rx="6.25" fill="#fff" stroke="#389438" stroke-width="0.5"/>
<text x="573.85" y="212.58" text-anchor="middle" style="font-size:10px;font-weight:400;" fill="#575E75">15</text>
<text class="t" x="594.3" y="211.73" textLength="34.2" lengthAdjust="spacingAndGlyphs" fill="#fff">那么执行</text>
<path d="M 60.85,224.3 a 1.56,1.56 0 0 1 1.56,-1.56 H 65.54 c 0.78,0 1.17,0.39 1.56,0.78 l 1.56,1.56 c 0.39,0.39 0.78,0.78 1.56,0.78 h 4.69 c 0.78,0 1.17,-0.39 1.56,-0.78 l 1.56,-1.56 c 0.39,-0.39 0.78,-0.78 1.56,-0.78 H 206.44 a 1.56,1.56 0 0 1 1.56,1.56 V 239.93 a 1.56,1.56 0 0 1 -1.56,1.56 H 79.6 c -0.78,0 -1.17,0.39 -1.56,0.78 l -1.56,1.56 c -0.39,0.39 -0.78,0.78 -1.56,0.78 h -4.69 c -0.78,0 -1.17,-0.39 -1.56,-0.78 l -1.56,-1.56 c -0.39,-0.39 -0.78,-0.78 -1.56,-0.78 H 62.41 a 1.56,1.56 0 0 1 -1.56,-1.56 z" fill="#9966FF" stroke="#774DCB" stroke-width="0.5" />
<text class="t" x="64.05" y="235.16" textLength="9.2" lengthAdjust="spacingAndGlyphs" fill="#fff">说</text>
<rect x="79.95" y="225.86" width="93.85" height="12.5" rx="6.25" fill="#fff" stroke="#774DCB" stroke-width="0.5"/>
<text class="t" x="84.35" y="235.16" textLength="86.2" lengthAdjust="spacingAndGlyphs" style="font-weight:400;" fill="#575E75">温差较大，请合理穿衣</text>
<rect x="177.8" y="225.86" width="14.8" height="12.5" rx="6.25" fill="#fff" stroke="#774DCB" stroke-width="0.5"/>
<text x="185.2" y="236.01" text-anchor="middle" style="font-size:10px;font-weight:400;" fill="#575E75">2</text>
<text class="t" x="195.7" y="235.16" textLength="9.2" lengthAdjust="spacingAndGlyphs" fill="#fff">秒</text>
<text class="t" x="51.7" y="269.54" textLength="17.9" lengthAdjust="spacingAndGlyphs" fill="#fff">否则</text>
<text class="t" x="71.2" y="269.54" textLength="17.9" lengthAdjust="spacingAndGlyphs" fill="#fff">如果</text>
<path d="M 92,266.49 L 102.94,255.55 H 354.86 L 365.8,266.49 L 354.86,277.42 H 102.94 z" fill="#59C059" stroke="#389438" stroke-width="0.5" />
<rect x="102.9" y="257.11" width="223.85" height="18.75" rx="9.37" fill="#8B90E8" stroke="#6F74CB" stroke-width="0.5"/>
<g transform="translate(109.3,260.39) scale(0.97,1)"><circle cx="3.8" cy="3.4" r="3.4" fill="#FDFCF9"/><rect x="0.5" y="3.4" width="6" height="5" fill="#fff"/><circle cx="10.1" cy="4.7" r="3.8" fill="#fff"/><circle cx="2.9" cy="9.1" r="2.9" fill="#fff"/><circle cx="12.8" cy="9.1" r="2.9" fill="#fff"/><rect x="2.9" y="5" width="9.9" height="7" fill="#fff"/><path d="M 1.9,6.2 Q 2.3,3.5 5.9,3.1" fill="none" stroke="#E4DDCF" stroke-width="0.45"/></g>
<line x1="127.8" y1="257.49" x2="127.8" y2="275.49" stroke="#7F84DC" stroke-width="0.5"/>
<text class="t" x="131.1" y="269.54" textLength="17.6" lengthAdjust="spacingAndGlyphs" fill="#fff">省份</text>
<rect x="151.4" y="260.04" width="33.8" height="12.89" rx="1.56" fill="#898EE6" stroke="#6166BF" stroke-width="0.9"/>
<text class="t" x="155.2" y="269.54" textLength="18.4" lengthAdjust="spacingAndGlyphs" fill="#fff">甘肃</text>
<path d="M 177,265.89 h 3.2 l -1.6,2.0 z" fill="#fff" stroke="#fff" stroke-width="0.5" stroke-linejoin="round"/>
<text class="t" x="188" y="269.54" textLength="17.6" lengthAdjust="spacingAndGlyphs" fill="#fff">城市</text>
<rect x="208.8" y="260.04" width="33.4" height="12.89" rx="1.56" fill="#898EE6" stroke="#6166BF" stroke-width="0.9"/>
<text class="t" x="212.6" y="269.54" textLength="18.4" lengthAdjust="spacingAndGlyphs" fill="#fff">兰州</text>
<path d="M 234,265.89 h 3.2 l -1.6,2.0 z" fill="#fff" stroke="#fff" stroke-width="0.5" stroke-linejoin="round"/>
<text class="t" x="245" y="269.54" textLength="9.2" lengthAdjust="spacingAndGlyphs" fill="#fff">的</text>
<rect x="257.1" y="260.04" width="65" height="12.89" rx="1.56" fill="#898EE6" stroke="#6166BF" stroke-width="0.9"/>
<text class="t" x="260.7" y="269.54" textLength="49.2" lengthAdjust="spacingAndGlyphs" fill="#fff">最高温度(℃)</text>
<path d="M 313.9,265.89 h 3.2 l -1.6,2.0 z" fill="#fff" stroke="#fff" stroke-width="0.5" stroke-linejoin="round"/>
<text x="331.1" y="269.21" style="font-weight:700;" fill="#fff">&gt;</text>
<rect x="339.4" y="260.24" width="18.3" height="12.5" rx="6.25" fill="#fff" stroke="#389438" stroke-width="0.5"/>
<text x="348.55" y="270.39" text-anchor="middle" style="font-size:10px;font-weight:400;" fill="#575E75">35</text>
<text class="t" x="368.8" y="269.54" textLength="34.2" lengthAdjust="spacingAndGlyphs" fill="#fff">那么执行</text>
<circle cx="412.4" cy="266.49" r="5.6" fill="none" stroke="#fff" stroke-width="1.1"/>
<path d="M 409.3,266.49 h 6.2" stroke="#fff" stroke-width="1.1" fill="none"/>
<path d="M 54.6,280.55 a 1.56,1.56 0 0 1 1.56,-1.56 H 59.29 c 0.78,0 1.17,0.39 1.56,0.78 l 1.56,1.56 c 0.39,0.39 0.78,0.78 1.56,0.78 h 4.69 c 0.78,0 1.17,-0.39 1.56,-0.78 l 1.56,-1.56 c 0.39,-0.39 0.78,-0.78 1.56,-0.78 H 192.14 a 1.56,1.56 0 0 1 1.56,1.56 V 296.17 a 1.56,1.56 0 0 1 -1.56,1.56 H 73.35 c -0.78,0 -1.17,0.39 -1.56,0.78 l -1.56,1.56 c -0.39,0.39 -0.78,0.78 -1.56,0.78 h -4.69 c -0.78,0 -1.17,-0.39 -1.56,-0.78 l -1.56,-1.56 c -0.39,-0.39 -0.78,-0.78 -1.56,-0.78 H 56.16 a 1.56,1.56 0 0 1 -1.56,-1.56 z" fill="#9966FF" stroke="#774DCB" stroke-width="0.5" />
<text class="t" x="57.8" y="291.41" textLength="9.2" lengthAdjust="spacingAndGlyphs" fill="#fff">说</text>
<rect x="73.7" y="282.11" width="85.8" height="12.5" rx="6.25" fill="#fff" stroke="#774DCB" stroke-width="0.5"/>
<text class="t" x="78.1" y="291.41" textLength="77.6" lengthAdjust="spacingAndGlyphs" style="font-weight:400;" fill="#575E75">气温较高，小心中暑</text>
<rect x="163.5" y="282.11" width="14.8" height="12.5" rx="6.25" fill="#fff" stroke="#774DCB" stroke-width="0.5"/>
<text x="170.9" y="292.26" text-anchor="middle" style="font-size:10px;font-weight:400;" fill="#575E75">2</text>
<text class="t" x="181.4" y="291.41" textLength="9.2" lengthAdjust="spacingAndGlyphs" fill="#fff">秒</text>
<path d="M 54.6,299.3 a 1.56,1.56 0 0 1 1.56,-1.56 H 59.29 c 0.78,0 1.17,0.39 1.56,0.78 l 1.56,1.56 c 0.39,0.39 0.78,0.78 1.56,0.78 h 4.69 c 0.78,0 1.17,-0.39 1.56,-0.78 l 1.56,-1.56 c 0.39,-0.39 0.78,-0.78 1.56,-0.78 H 630.24 a 1.56,1.56 0 0 1 1.56,1.56 V 324.3 a 1.56,1.56 0 0 1 -1.56,1.56 H 79.6 c -0.78,0 -1.17,0.39 -1.56,0.78 l -1.56,1.56 c -0.39,0.39 -0.78,0.78 -1.56,0.78 h -4.69 c -0.78,0 -1.17,-0.39 -1.56,-0.78 l -1.56,-1.56 c -0.39,-0.39 -0.78,-0.78 -1.56,-0.78 H 62.41 a 1.56,1.56 0 0 0 -1.56,1.56 V 343.04 a 1.56,1.56 0 0 0 1.56,1.56 H 630.24 a 1.56,1.56 0 0 1 1.56,1.56 V 355.54 a 1.56,1.56 0 0 1 -1.56,1.56 H 73.35 c -0.78,0 -1.17,0.39 -1.56,0.78 l -1.56,1.56 c -0.39,0.39 -0.78,0.78 -1.56,0.78 h -4.69 c -0.78,0 -1.17,-0.39 -1.56,-0.78 l -1.56,-1.56 c -0.39,-0.39 -0.78,-0.78 -1.56,-0.78 H 56.16 a 1.56,1.56 0 0 1 -1.56,-1.56 z" fill="#FFAB19" stroke="#CF8B17" stroke-width="0.5" />
<text class="t" x="57.6" y="314.85" textLength="17.9" lengthAdjust="spacingAndGlyphs" fill="#fff">如果</text>
<path d="M 78.7,311.8 L 91.2,299.3 H 578.7 L 591.2,311.8 L 578.7,324.3 H 91.2 z" fill="#59C059" stroke="#389438" stroke-width="0.5" />
<rect x="89.5" y="300.86" width="464.1" height="21.87" rx="10.94" fill="#59C059" stroke="#389438" stroke-width="0.5" stroke-opacity="0.8"/>
<rect x="92.6" y="302.42" width="223.85" height="18.75" rx="9.37" fill="#8B90E8" stroke="#6F74CB" stroke-width="0.5"/>
<g transform="translate(99,305.7) scale(0.97,1)"><circle cx="3.8" cy="3.4" r="3.4" fill="#FDFCF9"/><rect x="0.5" y="3.4" width="6" height="5" fill="#fff"/><circle cx="10.1" cy="4.7" r="3.8" fill="#fff"/><circle cx="2.9" cy="9.1" r="2.9" fill="#fff"/><circle cx="12.8" cy="9.1" r="2.9" fill="#fff"/><rect x="2.9" y="5" width="9.9" height="7" fill="#fff"/><path d="M 1.9,6.2 Q 2.3,3.5 5.9,3.1" fill="none" stroke="#E4DDCF" stroke-width="0.45"/></g>
<line x1="117.5" y1="302.8" x2="117.5" y2="320.8" stroke="#7F84DC" stroke-width="0.5"/>
<text class="t" x="120.8" y="314.85" textLength="17.6" lengthAdjust="spacingAndGlyphs" fill="#fff">省份</text>
<rect x="141.1" y="305.35" width="33.8" height="12.89" rx="1.56" fill="#898EE6" stroke="#6166BF" stroke-width="0.9"/>
<text class="t" x="144.9" y="314.85" textLength="18.4" lengthAdjust="spacingAndGlyphs" fill="#fff">甘肃</text>
<path d="M 166.7,311.2 h 3.2 l -1.6,2.0 z" fill="#fff" stroke="#fff" stroke-width="0.5" stroke-linejoin="round"/>
<text class="t" x="177.7" y="314.85" textLength="17.6" lengthAdjust="spacingAndGlyphs" fill="#fff">城市</text>
<rect x="198.5" y="305.35" width="33.4" height="12.89" rx="1.56" fill="#898EE6" stroke="#6166BF" stroke-width="0.9"/>
<text class="t" x="202.3" y="314.85" textLength="18.4" lengthAdjust="spacingAndGlyphs" fill="#fff">兰州</text>
<path d="M 223.7,311.2 h 3.2 l -1.6,2.0 z" fill="#fff" stroke="#fff" stroke-width="0.5" stroke-linejoin="round"/>
<text class="t" x="234.7" y="314.85" textLength="9.2" lengthAdjust="spacingAndGlyphs" fill="#fff">的</text>
<rect x="246.8" y="305.35" width="65" height="12.89" rx="1.56" fill="#898EE6" stroke="#6166BF" stroke-width="0.9"/>
<text class="t" x="250.4" y="314.85" textLength="49.2" lengthAdjust="spacingAndGlyphs" fill="#fff">最高温度(℃)</text>
<path d="M 303.6,311.2 h 3.2 l -1.6,2.0 z" fill="#fff" stroke="#fff" stroke-width="0.5" stroke-linejoin="round"/>
<rect x="319.5" y="311.9" width="3.9" height="1" fill="#fff"/>
<rect x="326.8" y="302.42" width="223.85" height="18.75" rx="9.37" fill="#8B90E8" stroke="#6F74CB" stroke-width="0.5"/>
<g transform="translate(333.2,305.7) scale(0.97,1)"><circle cx="3.8" cy="3.4" r="3.4" fill="#FDFCF9"/><rect x="0.5" y="3.4" width="6" height="5" fill="#fff"/><circle cx="10.1" cy="4.7" r="3.8" fill="#fff"/><circle cx="2.9" cy="9.1" r="2.9" fill="#fff"/><circle cx="12.8" cy="9.1" r="2.9" fill="#fff"/><rect x="2.9" y="5" width="9.9" height="7" fill="#fff"/><path d="M 1.9,6.2 Q 2.3,3.5 5.9,3.1" fill="none" stroke="#E4DDCF" stroke-width="0.45"/></g>
<line x1="351.7" y1="302.8" x2="351.7" y2="320.8" stroke="#7F84DC" stroke-width="0.5"/>
<text class="t" x="355" y="314.85" textLength="17.6" lengthAdjust="spacingAndGlyphs" fill="#fff">省份</text>
<rect x="375.3" y="305.35" width="33.8" height="12.89" rx="1.56" fill="#898EE6" stroke="#6166BF" stroke-width="0.9"/>
<text class="t" x="379.1" y="314.85" textLength="18.4" lengthAdjust="spacingAndGlyphs" fill="#fff">甘肃</text>
<path d="M 400.9,311.2 h 3.2 l -1.6,2.0 z" fill="#fff" stroke="#fff" stroke-width="0.5" stroke-linejoin="round"/>
<text class="t" x="411.9" y="314.85" textLength="17.6" lengthAdjust="spacingAndGlyphs" fill="#fff">城市</text>
<rect x="432.7" y="305.35" width="33.4" height="12.89" rx="1.56" fill="#898EE6" stroke="#6166BF" stroke-width="0.9"/>
<text class="t" x="436.5" y="314.85" textLength="18.4" lengthAdjust="spacingAndGlyphs" fill="#fff">兰州</text>
<path d="M 457.9,311.2 h 3.2 l -1.6,2.0 z" fill="#fff" stroke="#fff" stroke-width="0.5" stroke-linejoin="round"/>
<text class="t" x="468.9" y="314.85" textLength="9.2" lengthAdjust="spacingAndGlyphs" fill="#fff">的</text>
<rect x="481" y="305.35" width="65" height="12.89" rx="1.56" fill="#898EE6" stroke="#6166BF" stroke-width="0.9"/>
<text class="t" x="484.6" y="314.85" textLength="49.2" lengthAdjust="spacingAndGlyphs" fill="#fff">最低温度(℃)</text>
<path d="M 537.8,311.2 h 3.2 l -1.6,2.0 z" fill="#fff" stroke="#fff" stroke-width="0.5" stroke-linejoin="round"/>
<text x="556.1" y="314.52" style="font-weight:700;" fill="#fff">&gt;</text>
<rect x="564.7" y="305.55" width="18.3" height="12.5" rx="6.25" fill="#fff" stroke="#389438" stroke-width="0.5"/>
<text x="573.85" y="315.7" text-anchor="middle" style="font-size:10px;font-weight:400;" fill="#575E75">15</text>
<text class="t" x="594.3" y="314.85" textLength="34.2" lengthAdjust="spacingAndGlyphs" fill="#fff">那么执行</text>
<path d="M 60.85,327.42 a 1.56,1.56 0 0 1 1.56,-1.56 H 65.54 c 0.78,0 1.17,0.39 1.56,0.78 l 1.56,1.56 c 0.39,0.39 0.78,0.78 1.56,0.78 h 4.69 c 0.78,0 1.17,-0.39 1.56,-0.78 l 1.56,-1.56 c 0.39,-0.39 0.78,-0.78 1.56,-0.78 H 206.44 a 1.56,1.56 0 0 1 1.56,1.56 V 343.04 a 1.56,1.56 0 0 1 -1.56,1.56 H 79.6 c -0.78,0 -1.17,0.39 -1.56,0.78 l -1.56,1.56 c -0.39,0.39 -0.78,0.78 -1.56,0.78 h -4.69 c -0.78,0 -1.17,-0.39 -1.56,-0.78 l -1.56,-1.56 c -0.39,-0.39 -0.78,-0.78 -1.56,-0.78 H 62.41 a 1.56,1.56 0 0 1 -1.56,-1.56 z" fill="#9966FF" stroke="#774DCB" stroke-width="0.5" />
<text class="t" x="64.05" y="338.28" textLength="9.2" lengthAdjust="spacingAndGlyphs" fill="#fff">说</text>
<rect x="79.95" y="328.98" width="93.85" height="12.5" rx="6.25" fill="#fff" stroke="#774DCB" stroke-width="0.5"/>
<text class="t" x="84.35" y="338.28" textLength="86.2" lengthAdjust="spacingAndGlyphs" style="font-weight:400;" fill="#575E75">温差较大，请合理穿衣</text>
<rect x="177.8" y="328.98" width="14.8" height="12.5" rx="6.25" fill="#fff" stroke="#774DCB" stroke-width="0.5"/>
<text x="185.2" y="339.13" text-anchor="middle" style="font-size:10px;font-weight:400;" fill="#575E75">2</text>
<text class="t" x="195.7" y="338.28" textLength="9.2" lengthAdjust="spacingAndGlyphs" fill="#fff">秒</text>
<text class="t" x="51.7" y="374.22" textLength="17.9" lengthAdjust="spacingAndGlyphs" fill="#fff">否则</text>
<text class="t" x="71.2" y="374.22" textLength="17.9" lengthAdjust="spacingAndGlyphs" fill="#fff">如果</text>
<path d="M 92.2,371.17 L 104.7,358.67 H 592.2 L 604.7,371.17 L 592.2,383.67 H 104.7 z" fill="#59C059" stroke="#389438" stroke-width="0.5" />
<rect x="102.7" y="360.23" width="464.1" height="21.87" rx="10.94" fill="#59C059" stroke="#389438" stroke-width="0.5" stroke-opacity="0.8"/>
<rect x="105.8" y="361.79" width="223.85" height="18.75" rx="9.37" fill="#8B90E8" stroke="#6F74CB" stroke-width="0.5"/>
<g transform="translate(112.2,365.07) scale(0.97,1)"><circle cx="3.8" cy="3.4" r="3.4" fill="#FDFCF9"/><rect x="0.5" y="3.4" width="6" height="5" fill="#fff"/><circle cx="10.1" cy="4.7" r="3.8" fill="#fff"/><circle cx="2.9" cy="9.1" r="2.9" fill="#fff"/><circle cx="12.8" cy="9.1" r="2.9" fill="#fff"/><rect x="2.9" y="5" width="9.9" height="7" fill="#fff"/><path d="M 1.9,6.2 Q 2.3,3.5 5.9,3.1" fill="none" stroke="#E4DDCF" stroke-width="0.45"/></g>
<line x1="130.7" y1="362.17" x2="130.7" y2="380.17" stroke="#7F84DC" stroke-width="0.5"/>
<text class="t" x="134" y="374.22" textLength="17.6" lengthAdjust="spacingAndGlyphs" fill="#fff">省份</text>
<rect x="154.3" y="364.72" width="33.8" height="12.89" rx="1.56" fill="#898EE6" stroke="#6166BF" stroke-width="0.9"/>
<text class="t" x="158.1" y="374.22" textLength="18.4" lengthAdjust="spacingAndGlyphs" fill="#fff">甘肃</text>
<path d="M 179.9,370.57 h 3.2 l -1.6,2.0 z" fill="#fff" stroke="#fff" stroke-width="0.5" stroke-linejoin="round"/>
<text class="t" x="190.9" y="374.22" textLength="17.6" lengthAdjust="spacingAndGlyphs" fill="#fff">城市</text>
<rect x="211.7" y="364.72" width="33.4" height="12.89" rx="1.56" fill="#898EE6" stroke="#6166BF" stroke-width="0.9"/>
<text class="t" x="215.5" y="374.22" textLength="18.4" lengthAdjust="spacingAndGlyphs" fill="#fff">兰州</text>
<path d="M 236.9,370.57 h 3.2 l -1.6,2.0 z" fill="#fff" stroke="#fff" stroke-width="0.5" stroke-linejoin="round"/>
<text class="t" x="247.9" y="374.22" textLength="9.2" lengthAdjust="spacingAndGlyphs" fill="#fff">的</text>
<rect x="260" y="364.72" width="65" height="12.89" rx="1.56" fill="#898EE6" stroke="#6166BF" stroke-width="0.9"/>
<text class="t" x="263.6" y="374.22" textLength="49.2" lengthAdjust="spacingAndGlyphs" fill="#fff">最高温度(℃)</text>
<path d="M 316.8,370.57 h 3.2 l -1.6,2.0 z" fill="#fff" stroke="#fff" stroke-width="0.5" stroke-linejoin="round"/>
<rect x="332.8" y="371.27" width="3.9" height="1" fill="#fff"/>
<rect x="340" y="361.79" width="223.85" height="18.75" rx="9.37" fill="#8B90E8" stroke="#6F74CB" stroke-width="0.5"/>
<g transform="translate(346.4,365.07) scale(0.97,1)"><circle cx="3.8" cy="3.4" r="3.4" fill="#FDFCF9"/><rect x="0.5" y="3.4" width="6" height="5" fill="#fff"/><circle cx="10.1" cy="4.7" r="3.8" fill="#fff"/><circle cx="2.9" cy="9.1" r="2.9" fill="#fff"/><circle cx="12.8" cy="9.1" r="2.9" fill="#fff"/><rect x="2.9" y="5" width="9.9" height="7" fill="#fff"/><path d="M 1.9,6.2 Q 2.3,3.5 5.9,3.1" fill="none" stroke="#E4DDCF" stroke-width="0.45"/></g>
<line x1="364.9" y1="362.17" x2="364.9" y2="380.17" stroke="#7F84DC" stroke-width="0.5"/>
<text class="t" x="368.2" y="374.22" textLength="17.6" lengthAdjust="spacingAndGlyphs" fill="#fff">省份</text>
<rect x="388.5" y="364.72" width="33.8" height="12.89" rx="1.56" fill="#898EE6" stroke="#6166BF" stroke-width="0.9"/>
<text class="t" x="392.3" y="374.22" textLength="18.4" lengthAdjust="spacingAndGlyphs" fill="#fff">甘肃</text>
<path d="M 414.1,370.57 h 3.2 l -1.6,2.0 z" fill="#fff" stroke="#fff" stroke-width="0.5" stroke-linejoin="round"/>
<text class="t" x="425.1" y="374.22" textLength="17.6" lengthAdjust="spacingAndGlyphs" fill="#fff">城市</text>
<rect x="445.9" y="364.72" width="33.4" height="12.89" rx="1.56" fill="#898EE6" stroke="#6166BF" stroke-width="0.9"/>
<text class="t" x="449.7" y="374.22" textLength="18.4" lengthAdjust="spacingAndGlyphs" fill="#fff">兰州</text>
<path d="M 471.1,370.57 h 3.2 l -1.6,2.0 z" fill="#fff" stroke="#fff" stroke-width="0.5" stroke-linejoin="round"/>
<text class="t" x="482.1" y="374.22" textLength="9.2" lengthAdjust="spacingAndGlyphs" fill="#fff">的</text>
<rect x="494.2" y="364.72" width="65" height="12.89" rx="1.56" fill="#898EE6" stroke="#6166BF" stroke-width="0.9"/>
<text class="t" x="497.8" y="374.22" textLength="49.2" lengthAdjust="spacingAndGlyphs" fill="#fff">最低温度(℃)</text>
<path d="M 551,370.57 h 3.2 l -1.6,2.0 z" fill="#fff" stroke="#fff" stroke-width="0.5" stroke-linejoin="round"/>
<text x="569.4" y="373.89" style="font-weight:700;" fill="#fff">&gt;</text>
<rect x="578.2" y="364.92" width="18.4" height="12.5" rx="6.25" fill="#fff" stroke="#389438" stroke-width="0.5"/>
<text x="587.4" y="375.07" text-anchor="middle" style="font-size:10px;font-weight:400;" fill="#575E75">15</text>
<text class="t" x="607.7" y="374.22" textLength="34.2" lengthAdjust="spacingAndGlyphs" fill="#fff">那么执行</text>
<circle cx="651.1" cy="371.17" r="5.6" fill="none" stroke="#fff" stroke-width="1.1"/>
<path d="M 648,371.17 h 6.2" stroke="#fff" stroke-width="1.1" fill="none"/>
<path d="M 54.6,386.79 a 1.56,1.56 0 0 1 1.56,-1.56 H 59.29 c 0.78,0 1.17,0.39 1.56,0.78 l 1.56,1.56 c 0.39,0.39 0.78,0.78 1.56,0.78 h 4.69 c 0.78,0 1.17,-0.39 1.56,-0.78 l 1.56,-1.56 c 0.39,-0.39 0.78,-0.78 1.56,-0.78 H 200.14 a 1.56,1.56 0 0 1 1.56,1.56 V 402.42 a 1.56,1.56 0 0 1 -1.56,1.56 H 73.35 c -0.78,0 -1.17,0.39 -1.56,0.78 l -1.56,1.56 c -0.39,0.39 -0.78,0.78 -1.56,0.78 h -4.69 c -0.78,0 -1.17,-0.39 -1.56,-0.78 l -1.56,-1.56 c -0.39,-0.39 -0.78,-0.78 -1.56,-0.78 H 56.16 a 1.56,1.56 0 0 1 -1.56,-1.56 z" fill="#9966FF" stroke="#774DCB" stroke-width="0.5" />
<text class="t" x="57.8" y="397.65" textLength="9.2" lengthAdjust="spacingAndGlyphs" fill="#fff">说</text>
<rect x="73.7" y="388.35" width="93.8" height="12.5" rx="6.25" fill="#fff" stroke="#774DCB" stroke-width="0.5"/>
<text class="t" x="78.1" y="397.65" textLength="86.2" lengthAdjust="spacingAndGlyphs" style="font-weight:400;" fill="#575E75">温差较大，请合理穿衣</text>
<rect x="171.5" y="388.35" width="14.8" height="12.5" rx="6.25" fill="#fff" stroke="#774DCB" stroke-width="0.5"/>
<text x="178.9" y="398.5" text-anchor="middle" style="font-size:10px;font-weight:400;" fill="#575E75">2</text>
<text class="t" x="189.4" y="397.65" textLength="9.2" lengthAdjust="spacingAndGlyphs" fill="#fff">秒</text>
<text class="t" x="51.7" y="416.4" textLength="17.9" lengthAdjust="spacingAndGlyphs" fill="#fff">否则</text>
<circle cx="78.6" cy="413.35" r="5.6" fill="none" stroke="#fff" stroke-width="1.1"/>
<path d="M 75.5,413.35 h 6.2" stroke="#fff" stroke-width="1.1" fill="none"/>
<path d="M 54.6,424.29 a 1.56,1.56 0 0 1 1.56,-1.56 H 59.29 c 0.78,0 1.17,0.39 1.56,0.78 l 1.56,1.56 c 0.39,0.39 0.78,0.78 1.56,0.78 h 4.69 c 0.78,0 1.17,-0.39 1.56,-0.78 l 1.56,-1.56 c 0.39,-0.39 0.78,-0.78 1.56,-0.78 H 217.64 a 1.56,1.56 0 0 1 1.56,1.56 V 439.91 a 1.56,1.56 0 0 1 -1.56,1.56 H 73.35 c -0.78,0 -1.17,0.39 -1.56,0.78 l -1.56,1.56 c -0.39,0.39 -0.78,0.78 -1.56,0.78 h -4.69 c -0.78,0 -1.17,-0.39 -1.56,-0.78 l -1.56,-1.56 c -0.39,-0.39 -0.78,-0.78 -1.56,-0.78 H 56.16 a 1.56,1.56 0 0 1 -1.56,-1.56 z" fill="#9966FF" stroke="#774DCB" stroke-width="0.5" />
<text class="t" x="57.8" y="435.15" textLength="9.2" lengthAdjust="spacingAndGlyphs" fill="#fff">说</text>
<rect x="73.7" y="425.85" width="111.3" height="12.5" rx="6.25" fill="#fff" stroke="#774DCB" stroke-width="0.5"/>
<text class="t" x="78.1" y="435.15" textLength="103" lengthAdjust="spacingAndGlyphs" style="font-weight:400;" fill="#575E75">气候适宜，多活动活动吧！</text>
<rect x="189" y="425.85" width="14.8" height="12.5" rx="6.25" fill="#fff" stroke="#774DCB" stroke-width="0.5"/>
<text x="196.4" y="436" text-anchor="middle" style="font-size:10px;font-weight:400;" fill="#575E75">2</text>
<text class="t" x="206.9" y="435.15" textLength="9.2" lengthAdjust="spacingAndGlyphs" fill="#fff">秒</text>
<circle cx="57.8" cy="447.82" r="5.6" fill="none" stroke="#fff" stroke-width="1.1"/>
<path d="M 54.7,447.82 h 6.2" stroke="#fff" stroke-width="1.1" fill="none"/>
<path d="M 57.8,444.72 v 6.2" stroke="#fff" stroke-width="1.1" fill="none"/>
<path d="M 48.35,455.54 a 1.56,1.56 0 0 1 1.56,-1.56 H 53.04 c 0.78,0 1.17,0.39 1.56,0.78 l 1.56,1.56 c 0.39,0.39 0.78,0.78 1.56,0.78 h 4.69 c 0.78,0 1.17,-0.39 1.56,-0.78 l 1.56,-1.56 c 0.39,-0.39 0.78,-0.78 1.56,-0.78 H 219.74 a 1.56,1.56 0 0 1 1.56,1.56 V 471.16 a 1.56,1.56 0 0 1 -1.56,1.56 H 67.1 c -0.78,0 -1.17,0.39 -1.56,0.78 l -1.56,1.56 c -0.39,0.39 -0.78,0.78 -1.56,0.78 h -4.69 c -0.78,0 -1.17,-0.39 -1.56,-0.78 l -1.56,-1.56 c -0.39,-0.39 -0.78,-0.78 -1.56,-0.78 H 49.91 a 1.56,1.56 0 0 1 -1.56,-1.56 z" fill="#9966FF" stroke="#774DCB" stroke-width="0.5" />
<text class="t" x="51.55" y="466.4" textLength="9.2" lengthAdjust="spacingAndGlyphs" fill="#fff">说</text>
<rect x="67.45" y="457.1" width="119.65" height="12.5" rx="6.25" fill="#fff" stroke="#774DCB" stroke-width="0.5"/>
<text class="t" x="71.85" y="466.4" textLength="112.2" lengthAdjust="spacingAndGlyphs" style="font-weight:400;" fill="#575E75">感谢您的使用，期待下次再见</text>
<rect x="191.1" y="457.1" width="14.8" height="12.5" rx="6.25" fill="#fff" stroke="#774DCB" stroke-width="0.5"/>
<text x="198.5" y="467.25" text-anchor="middle" style="font-size:10px;font-weight:400;" fill="#575E75">2</text>
<text class="t" x="209" y="466.4" textLength="9.2" lengthAdjust="spacingAndGlyphs" fill="#fff">秒</text>
<path d="M 48.35,474.29 a 1.56,1.56 0 0 1 1.56,-1.56 H 53.04 c 0.78,0 1.17,0.39 1.56,0.78 l 1.56,1.56 c 0.39,0.39 0.78,0.78 1.56,0.78 h 4.69 c 0.78,0 1.17,-0.39 1.56,-0.78 l 1.56,-1.56 c 0.39,-0.39 0.78,-0.78 1.56,-0.78 H 124.54 a 1.56,1.56 0 0 1 1.56,1.56 V 489.91 a 1.56,1.56 0 0 1 -1.56,1.56 H 49.91 a 1.56,1.56 0 0 1 -1.56,-1.56 z" fill="#FFAB19" stroke="#CF8B17" stroke-width="0.5" />
<text class="t" x="51.9" y="485.15" textLength="17.6" lengthAdjust="spacingAndGlyphs" fill="#fff">停止</text>
<rect x="72.3" y="475.56" width="50.2" height="13.09" rx="1.56" fill="#FFAB19" stroke="#D9901A" stroke-width="0.9"/>
<text class="t" x="75.7" y="485.15" textLength="35.4" lengthAdjust="spacingAndGlyphs" fill="#fff">这个脚本</text>
<path d="M 114.3,481.5 h 3.2 l -1.6,2.0 z" fill="#fff" stroke="#fff" stroke-width="0.5" stroke-linejoin="round"/>
<text class="t" x="45.3" y="510.15" textLength="17.9" lengthAdjust="spacingAndGlyphs" fill="#fff">否则</text>
<text class="t" x="64.8" y="510.15" textLength="17.9" lengthAdjust="spacingAndGlyphs" fill="#fff">如果</text>
<path d="M 85.5,507.1 L 99.56,493.03 H 535.24 L 549.3,507.1 L 535.24,521.16 H 99.56 z" fill="#59C059" stroke="#389438" stroke-width="0.5" />
<path d="M 89.2,507.1 L 100.14,496.16 H 282.46 L 293.4,507.1 L 282.46,518.03 H 100.14 z" fill="#59C059" stroke="#389438" stroke-width="0.5" stroke-opacity="0.8"/>
<path d="M 92.4,507.1 L 101.77,497.72 H 173.53 L 182.9,507.1 L 173.53,516.47 H 101.77 z" fill="#59C059" stroke="#389438" stroke-width="0.5" stroke-opacity="0.8"/>
<rect x="101.2" y="499.28" width="26.3" height="15.62" rx="7.81" fill="#5CB1D6" stroke="#2E8EB8" stroke-width="0.5"/>
<text class="t" x="105.4" y="510.15" textLength="17.8" lengthAdjust="spacingAndGlyphs" fill="#fff">回答</text>
<text class="t" x="130.9" y="510.15" textLength="17.6" lengthAdjust="spacingAndGlyphs" fill="#fff">包含</text>
<rect x="151.7" y="500.85" width="16.6" height="12.5" rx="6.25" fill="#fff" stroke="#389438" stroke-width="0.5"/>
<text class="t" x="160" y="510.15" textLength="9.2" lengthAdjust="spacingAndGlyphs" text-anchor="middle" style="font-weight:400;" fill="#575E75">否</text>
<text x="171.2" y="510.54" style="font-size:9.6px;font-weight:700;" fill="#fff">?</text>
<text class="t" x="186.5" y="510.15" textLength="9.2" lengthAdjust="spacingAndGlyphs" fill="#fff">或</text>
<path d="M 198.8,507.1 L 208.17,497.72 H 279.93 L 289.3,507.1 L 279.93,516.47 H 208.17 z" fill="#59C059" stroke="#389438" stroke-width="0.5" stroke-opacity="0.8"/>
<rect x="207.6" y="499.28" width="26.3" height="15.62" rx="7.81" fill="#5CB1D6" stroke="#2E8EB8" stroke-width="0.5"/>
<text class="t" x="211.8" y="510.15" textLength="17.8" lengthAdjust="spacingAndGlyphs" fill="#fff">回答</text>
<text class="t" x="237.3" y="510.15" textLength="17.6" lengthAdjust="spacingAndGlyphs" fill="#fff">包含</text>
<rect x="258.1" y="500.85" width="16.6" height="12.5" rx="6.25" fill="#fff" stroke="#389438" stroke-width="0.5"/>
<text class="t" x="266.4" y="510.15" textLength="9.2" lengthAdjust="spacingAndGlyphs" text-anchor="middle" style="font-weight:400;" fill="#575E75">不</text>
<text x="277.6" y="510.54" style="font-size:9.6px;font-weight:700;" fill="#fff">?</text>
<text class="t" x="296.5" y="510.15" textLength="9.2" lengthAdjust="spacingAndGlyphs" fill="#fff">或</text>
<path d="M 308.7,507.1 L 321.2,494.6 H 533 L 545.5,507.1 L 533,519.6 H 321.2 z" fill="#59C059" stroke="#389438" stroke-width="0.5" stroke-opacity="0.8"/>
<path d="M 311.9,507.1 L 321.27,497.72 H 401.43 L 410.8,507.1 L 401.43,516.47 H 321.27 z" fill="#59C059" stroke="#389438" stroke-width="0.5" stroke-opacity="0.8"/>
<rect x="320.7" y="499.28" width="26.3" height="15.62" rx="7.81" fill="#5CB1D6" stroke="#2E8EB8" stroke-width="0.5"/>
<text class="t" x="324.9" y="510.15" textLength="17.8" lengthAdjust="spacingAndGlyphs" fill="#fff">回答</text>
<text class="t" x="350.4" y="510.15" textLength="17.6" lengthAdjust="spacingAndGlyphs" fill="#fff">包含</text>
<rect x="371.2" y="500.85" width="25" height="12.5" rx="6.25" fill="#fff" stroke="#389438" stroke-width="0.5"/>
<text class="t" x="383.7" y="510.15" textLength="17.95" lengthAdjust="spacingAndGlyphs" text-anchor="middle" style="font-weight:400;" fill="#575E75">退出</text>
<text x="399.1" y="510.54" style="font-size:9.6px;font-weight:700;" fill="#fff">?</text>
<text class="t" x="414.3" y="510.15" textLength="9.2" lengthAdjust="spacingAndGlyphs" fill="#fff">与</text>
<path d="M 426.9,507.1 L 437.84,496.16 H 530.76 L 541.7,507.1 L 530.76,518.03 H 437.84 z" fill="#59C059" stroke="#389438" stroke-width="0.5" stroke-opacity="0.8"/>
<rect x="436" y="497.72" width="70.3" height="18.75" rx="9.37" fill="#59C059" stroke="#389438" stroke-width="0.5" stroke-opacity="0.8"/>
<rect x="439.1" y="499.28" width="26.2" height="15.62" rx="7.81" fill="#5CB1D6" stroke="#2E8EB8" stroke-width="0.5"/>
<text class="t" x="443.3" y="510.15" textLength="17.8" lengthAdjust="spacingAndGlyphs" fill="#fff">回答</text>
<text class="t" x="468.5" y="510.15" textLength="34.6" lengthAdjust="spacingAndGlyphs" fill="#fff">的字符数</text>
<text x="511.3" y="509.82" style="font-weight:700;" fill="#fff">=</text>
<rect x="520" y="500.85" width="15.5" height="12.5" rx="6.25" fill="#fff" stroke="#389438" stroke-width="0.5"/>
<text x="527.75" y="511" text-anchor="middle" style="font-size:10px;font-weight:400;" fill="#575E75">2</text>
<text class="t" x="553" y="510.15" textLength="34.2" lengthAdjust="spacingAndGlyphs" fill="#fff">那么执行</text>
<circle cx="596.1" cy="507.1" r="5.6" fill="none" stroke="#fff" stroke-width="1.1"/>
<path d="M 593,507.1 h 6.2" stroke="#fff" stroke-width="1.1" fill="none"/>
<path d="M 48.35,524.28 a 1.56,1.56 0 0 1 1.56,-1.56 H 53.04 c 0.78,0 1.17,0.39 1.56,0.78 l 1.56,1.56 c 0.39,0.39 0.78,0.78 1.56,0.78 h 4.69 c 0.78,0 1.17,-0.39 1.56,-0.78 l 1.56,-1.56 c 0.39,-0.39 0.78,-0.78 1.56,-0.78 H 219.74 a 1.56,1.56 0 0 1 1.56,1.56 V 539.91 a 1.56,1.56 0 0 1 -1.56,1.56 H 67.1 c -0.78,0 -1.17,0.39 -1.56,0.78 l -1.56,1.56 c -0.39,0.39 -0.78,0.78 -1.56,0.78 h -4.69 c -0.78,0 -1.17,-0.39 -1.56,-0.78 l -1.56,-1.56 c -0.39,-0.39 -0.78,-0.78 -1.56,-0.78 H 49.91 a 1.56,1.56 0 0 1 -1.56,-1.56 z" fill="#9966FF" stroke="#774DCB" stroke-width="0.5" />
<text class="t" x="51.55" y="535.14" textLength="9.2" lengthAdjust="spacingAndGlyphs" fill="#fff">说</text>
<rect x="67.45" y="525.84" width="119.65" height="12.5" rx="6.25" fill="#fff" stroke="#774DCB" stroke-width="0.5"/>
<text class="t" x="71.85" y="535.14" textLength="112.2" lengthAdjust="spacingAndGlyphs" style="font-weight:400;" fill="#575E75">感谢您的使用，期待下次再见</text>
<rect x="191.1" y="525.84" width="14.8" height="12.5" rx="6.25" fill="#fff" stroke="#774DCB" stroke-width="0.5"/>
<text x="198.5" y="535.99" text-anchor="middle" style="font-size:10px;font-weight:400;" fill="#575E75">2</text>
<text class="t" x="209" y="535.14" textLength="9.2" lengthAdjust="spacingAndGlyphs" fill="#fff">秒</text>
<path d="M 48.35,543.03 a 1.56,1.56 0 0 1 1.56,-1.56 H 53.04 c 0.78,0 1.17,0.39 1.56,0.78 l 1.56,1.56 c 0.39,0.39 0.78,0.78 1.56,0.78 h 4.69 c 0.78,0 1.17,-0.39 1.56,-0.78 l 1.56,-1.56 c 0.39,-0.39 0.78,-0.78 1.56,-0.78 H 124.54 a 1.56,1.56 0 0 1 1.56,1.56 V 558.66 a 1.56,1.56 0 0 1 -1.56,1.56 H 49.91 a 1.56,1.56 0 0 1 -1.56,-1.56 z" fill="#FFAB19" stroke="#CF8B17" stroke-width="0.5" />
<text class="t" x="51.9" y="553.89" textLength="17.6" lengthAdjust="spacingAndGlyphs" fill="#fff">停止</text>
<rect x="72.3" y="544.3" width="50.2" height="13.09" rx="1.56" fill="#FFAB19" stroke="#D9901A" stroke-width="0.9"/>
<text class="t" x="75.7" y="553.89" textLength="35.4" lengthAdjust="spacingAndGlyphs" fill="#fff">这个脚本</text>
<path d="M 114.3,550.24 h 3.2 l -1.6,2.0 z" fill="#fff" stroke="#fff" stroke-width="0.5" stroke-linejoin="round"/>
<text class="t" x="45.3" y="572.64" textLength="17.9" lengthAdjust="spacingAndGlyphs" fill="#fff">否则</text>
<circle cx="72.2" cy="569.59" r="5.6" fill="none" stroke="#fff" stroke-width="1.1"/>
<path d="M 69.1,569.59 h 6.2" stroke="#fff" stroke-width="1.1" fill="none"/>
<path d="M 48.35,580.53 a 1.56,1.56 0 0 1 1.56,-1.56 H 53.04 c 0.78,0 1.17,0.39 1.56,0.78 l 1.56,1.56 c 0.39,0.39 0.78,0.78 1.56,0.78 h 4.69 c 0.78,0 1.17,-0.39 1.56,-0.78 l 1.56,-1.56 c 0.39,-0.39 0.78,-0.78 1.56,-0.78 H 194.34 a 1.56,1.56 0 0 1 1.56,1.56 V 596.15 a 1.56,1.56 0 0 1 -1.56,1.56 H 67.1 c -0.78,0 -1.17,0.39 -1.56,0.78 l -1.56,1.56 c -0.39,0.39 -0.78,0.78 -1.56,0.78 h -4.69 c -0.78,0 -1.17,-0.39 -1.56,-0.78 l -1.56,-1.56 c -0.39,-0.39 -0.78,-0.78 -1.56,-0.78 H 49.91 a 1.56,1.56 0 0 1 -1.56,-1.56 z" fill="#9966FF" stroke="#774DCB" stroke-width="0.5" />
<text class="t" x="51.55" y="591.39" textLength="9.2" lengthAdjust="spacingAndGlyphs" fill="#fff">说</text>
<rect x="67.45" y="582.09" width="94.25" height="12.5" rx="6.25" fill="#fff" stroke="#774DCB" stroke-width="0.5"/>
<text x="71.85" y="592.24" style="font-size:10px;font-weight:400;" fill="#575E75"></text>
<rect x="165.7" y="582.09" width="14.8" height="12.5" rx="6.25" fill="#fff" stroke="#774DCB" stroke-width="0.5"/>
<text x="173.1" y="592.24" text-anchor="middle" style="font-size:10px;font-weight:400;" fill="#575E75">2</text>
<text class="t" x="183.6" y="591.39" textLength="9.2" lengthAdjust="spacingAndGlyphs" fill="#fff">秒</text>
<text class="t" x="72" y="591.39" textLength="87.2" lengthAdjust="spacingAndGlyphs" style="font-weight:400;" fill="#575E75">请输入“是”或“否”</text>
<circle cx="51.3" cy="604.06" r="5.6" fill="none" stroke="#fff" stroke-width="1.1"/>
<path d="M 48.2,604.06 h 6.2" stroke="#fff" stroke-width="1.1" fill="none"/>
<path d="M 51.3,600.96 v 6.2" stroke="#fff" stroke-width="1.1" fill="none"/>
</g>
</svg>
</body>
</html>
